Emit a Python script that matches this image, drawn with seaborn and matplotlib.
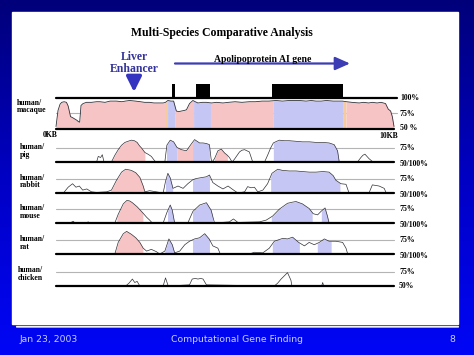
import numpy as np
import matplotlib
matplotlib.use("Agg")
import matplotlib.pyplot as plt
import seaborn as sns
from matplotlib.patches import Rectangle

# ---------------- data ----------------
macaque_kb = [0.00, 0.06, 0.12, 0.17, 0.24, 0.31, 0.36, 0.43, 0.50, 0.56, 0.62, 0.66, 0.70, 0.74, 0.80, 0.90,
              1.05, 1.20, 1.30, 1.45, 1.60, 1.79, 1.95, 2.05, 2.18, 2.35, 2.50, 2.62, 2.77, 2.90, 3.05, 3.17,
              3.24, 3.31, 3.40, 3.48, 3.56, 3.63, 3.71, 3.80, 3.86, 3.95, 4.05, 4.12, 4.20, 4.33, 4.45, 4.60,
              4.75, 4.94, 5.10, 5.30, 5.50, 5.72, 5.90, 6.10, 6.30, 6.51, 6.70, 6.90, 7.05, 7.20, 7.40, 7.55,
              7.69, 7.85, 8.00, 8.20, 8.35, 8.47, 8.60, 8.75, 8.97, 9.10, 9.25, 9.36, 9.50, 9.62, 9.75, 9.83,
              9.90, 9.95, 10.00]
macaque_id = [54, 80, 90, 93, 94, 93, 87, 70, 68, 66, 64, 62, 61, 88, 91, 93,
              93, 94, 94, 93, 95, 95, 94, 95, 96, 95, 94, 93, 93, 92, 92, 92,
              93, 96, 95, 95, 79, 78, 79, 80, 81, 91, 96, 94, 92, 93, 93, 92,
              93, 92, 93, 94, 93, 94, 94, 95, 95, 96, 95, 96, 96, 96, 95, 96,
              95, 95, 96, 95, 95, 95, 94, 93, 92, 93, 92, 93, 92, 93, 91, 82,
              79, 70, 54]

pig_kb = [1.20, 1.25, 1.32, 1.37, 1.42, 1.64, 1.74, 1.84, 1.94, 2.04, 2.13, 2.23, 2.32, 2.40, 2.47, 2.53, 2.63,
          2.72, 2.82, 2.92, 2.97, 3.22, 3.28, 3.38, 3.48, 3.58, 3.71, 3.86, 4.00, 4.10, 4.25, 4.35, 4.45,
          4.54, 4.59, 4.62, 4.69, 4.79, 4.89, 4.99, 5.07, 5.13, 5.21, 5.28, 5.36, 5.43, 5.50, 5.58, 5.65,
          5.72, 5.82, 6.17, 6.26, 6.35, 6.43, 6.53, 6.61, 6.75, 6.90, 7.10, 7.29, 7.50, 7.69, 7.90, 8.08,
          8.23, 8.33, 8.38, 8.92, 9.02, 9.08, 9.14, 9.20, 9.26, 9.38]
pig_id = [50, 60, 58, 63, 50, 50, 62, 72, 80, 85, 87, 89, 88, 85, 79, 75, 67,
          64, 60, 52, 50, 50, 80, 89, 86, 76, 72, 70, 82, 90, 84, 84, 83,
          81, 55, 50, 56, 70, 73, 66, 62, 58, 50, 55, 62, 68, 71, 72, 70,
          68, 50, 50, 62, 75, 84, 87, 89, 88, 88, 87, 86, 86, 85, 85, 84,
          81, 70, 50, 50, 58, 62, 64, 60, 56, 50]

rabbit_kb = [0.22, 0.36, 0.49, 0.59, 0.69, 0.79, 0.91, 1.05, 1.20, 1.50, 1.64, 1.79, 1.94, 2.06, 2.15, 2.23,
             2.36, 2.48, 2.58, 2.63, 2.77, 2.97, 3.17, 3.24, 3.31, 3.38, 3.46, 3.61, 3.76, 3.90, 4.05, 4.15,
             4.25, 4.35, 4.45, 4.54, 4.64, 4.79, 4.94, 5.09, 5.23, 5.38, 5.58, 5.67, 5.77, 5.87, 5.97, 6.12,
             6.26, 6.39, 6.56, 6.70, 6.90, 7.10, 7.29, 7.50, 7.69, 7.90, 8.08, 8.20, 8.28, 8.43, 8.58, 8.67,
             9.26, 9.36, 9.46, 9.56, 9.71, 9.77]
rabbit_id = [50, 60, 66, 60, 62, 55, 57, 52, 51, 52, 55, 72, 86, 91, 90, 89,
             85, 77, 62, 52, 54, 52, 50, 70, 84, 76, 58, 62, 58, 66, 73, 75,
             76, 77, 78, 81, 68, 62, 57, 62, 56, 50, 52, 61, 59, 60, 52, 55,
             66, 84, 91, 89, 88, 88, 87, 86, 86, 87, 86, 80, 72, 66, 65, 50,
             50, 64, 63, 62, 58, 50]

mouse_kb = [0.41, 0.51, 0.56, 0.91, 0.95, 1.00, 1.74, 1.84, 1.99, 2.10, 2.18, 2.26, 2.40, 2.56, 2.68, 2.77,
            2.85, 3.17, 3.28, 3.38, 3.44, 3.51, 3.90, 4.05, 4.25, 4.35, 4.45, 4.59, 4.69, 5.13, 5.25, 5.38,
            6.02, 6.22, 6.41, 6.61, 6.85, 7.00, 7.10, 7.29, 7.49, 7.61, 7.74, 7.84, 7.96, 8.03, 8.08]
mouse_id = [50, 53, 50, 50, 52, 50, 50, 65, 83, 89, 88, 85, 78, 68, 60, 55,
            50, 50, 68, 81, 72, 50, 50, 70, 81, 83, 85, 72, 50, 52, 57, 51,
            52, 55, 62, 74, 84, 86, 87, 83, 75, 66, 64, 70, 76, 62, 50]

rat_kb = [1.74, 1.84, 1.99, 2.09, 2.23, 2.36, 2.48, 2.58, 2.68, 2.82, 2.97, 3.07, 3.22, 3.34, 3.44, 3.51,
          3.66, 3.81, 3.95, 4.10, 4.25, 4.40, 4.53, 4.64, 4.79, 4.86, 5.72, 5.87, 6.12, 6.31, 6.46, 6.71,
          6.85, 7.00, 7.18, 7.35, 7.49, 7.64, 7.79, 7.94, 8.08, 8.28, 8.48, 8.58, 8.63]
rat_id = [50, 70, 85, 89, 84, 78, 70, 60, 55, 58, 54, 50, 55, 76, 66, 52,
          55, 66, 72, 76, 78, 85, 76, 64, 60, 50, 50, 53, 52, 60, 72, 77,
          76, 79, 70, 64, 70, 66, 70, 76, 72, 72, 70, 60, 50]

chicken_kb = [2.06, 2.16, 2.26, 2.33, 2.40, 2.48, 3.17, 3.24, 3.32, 3.95, 4.03, 4.12, 4.20, 4.28, 4.35, 4.45,
              6.46, 6.56, 6.66, 6.78, 6.85, 6.95, 6.98, 7.86, 7.89, 7.92]
chicken_id = [50, 55, 62, 56, 58, 50, 50, 64, 50, 52, 62, 63, 62, 63, 62, 52,
              50, 55, 62, 69, 73, 60, 50, 50, 56, 50]

# conserved regions: (start kb, end kb, kind)
macaque_regions = [(0.00, 3.24, "cns"), (3.24, 3.30, "utr"), (3.30, 3.51, "exon"), (3.51, 4.07, "cns"),
                   (4.07, 4.57, "exon"), (4.57, 6.43, "cns"), (6.43, 8.50, "exon"), (8.50, 8.58, "utr"),
                   (8.58, 10.00, "cns")]
pig_regions = [(1.65, 2.63, "cns"), (3.27, 3.57, "exon"), (3.57, 4.04, "cns"), (4.04, 4.54, "exon"),
               (4.69, 5.07, "cns"), (6.43, 8.38, "exon")]
rabbit_regions = [(1.62, 2.60, "cns"), (3.24, 3.45, "exon"), (4.04, 4.54, "exon"), (6.35, 8.40, "exon")]
mouse_regions = [(1.80, 2.57, "cns"), (3.30, 3.51, "exon"), (4.04, 4.63, "exon"), (6.37, 7.58, "exon"),
                 (7.85, 8.08, "exon")]
rat_regions = [(1.74, 2.57, "cns"), (3.22, 3.51, "exon"), (4.04, 4.54, "exon"), (6.40, 7.20, "exon"),
               (7.73, 8.14, "exon")]
chicken_regions = []

# gene exons (kb)
exon_start = [3.42, 4.13, 6.40]
exon_end = [3.51, 4.57, 8.50]

species_labels = ["human/\nmacaque", "human/\npig", "human/\nrabbit", "human/\nmouse", "human/\nrat",
                  "human/\nchicken"]

title_text = "Multi-Species Comparative Analysis"
footer_left = "Jan 23, 2003"
footer_mid = "Computational Gene Finding"
footer_right = "8"

# ---------------- style ----------------
sns.set_style("white")
plt.rcParams["font.family"] = ["Liberation Serif", "DejaVu Serif"]

W, H = 474, 355
fig = plt.figure(figsize=(W / 100, H / 100), dpi=100)

COLORS = {"cns": "#f7c4c6", "exon": "#c6c6f4", "utr": "#f6cc9e"}
LINE = "#303038"

def fx(px):
    return px / W

def fy(py):
    return 1 - py / H

# background gradient
bg = fig.add_axes([0, 0, 1, 1], zorder=-10)
grad = np.linspace(0, 1, 256).reshape(-1, 1)
cmap = matplotlib.colors.LinearSegmentedColormap.from_list("bg", ["#00007a", "#0000c4", "#0006f6"])
bg.imshow(grad, aspect="auto", cmap=cmap, extent=[0, 1, 0, 1], origin="upper")
bg.set_xlim(0, 1)
bg.set_ylim(0, 1)
bg.axis("off")
bg.add_patch(Rectangle((fx(12), fy(324)), fx(458) - fx(12), fy(12) - fy(324), color="white", zorder=2))
bg.plot([fx(16), fx(458)], [fy(326.3), fy(326.3)], color="#f2f2f2", lw=0.9, zorder=3)
bg.plot([fx(16), fx(458)], [fy(327.4), fy(327.4)], color="#c9b46a", lw=0.7, zorder=3)

def add_panel(y100, y50, top=None):
    top = y100 if top is None else top
    ax = fig.add_axes([fx(56), fy(y50), fx(394) - fx(56), (y50 - top) / H])
    ax.set_xlim(0, 10)
    ax.set_ylim(50, 50 + (y50 - top) / (y50 - y100) * 50)
    ax.axis("off")
    ax.patch.set_alpha(0)
    return ax

def fill_region(ax, xs, ys, a, b, color):
    xs = np.asarray(xs, float)
    ys = np.asarray(ys, float)
    inner = (xs > a) & (xs < b)
    px = np.concatenate([[a], xs[inner], [b]])
    py = np.concatenate([[np.interp(a, xs, ys)], ys[inner], [np.interp(b, xs, ys)]])
    ax.fill_between(px, 50, py, color=color, lw=0, zorder=1)

def draw_curve(ax, xs, ys, regions, lw=0.55):
    ax.axhline(75, xmin=0, xmax=1.0, color="#b4b4b4", lw=0.8, zorder=0, clip_on=False)
    for a, b, kind in regions:
        fill_region(ax, xs, ys, a, b, COLORS[kind])
    sns.lineplot(x=xs, y=ys, ax=ax, color=LINE, lw=lw, estimator=None, sort=False, zorder=3)
    ax.lines[-1].set_clip_on(False)
    ax.axhline(50, xmin=0, xmax=1.0, color="black", lw=1.6, zorder=4, clip_on=False)

# macaque panel (with gene track above)
axm = add_panel(98, 129, top=84)
draw_curve(axm, macaque_kb, macaque_id, macaque_regions, lw=0.6)
axm.axhline(75, xmin=0.99, xmax=1.01, color="#b4b4b4", lw=0.8, zorder=0, clip_on=False)
axm.axhline(100, xmin=0, xmax=1.01, color="black", lw=1.6, zorder=4, clip_on=False)
ytop = axm.get_ylim()[1]
for s, e in zip(exon_start, exon_end):
    axm.fill_between([s, e], 100, ytop, color="black", lw=0, zorder=4)

lower = [
    (134, 162, pig_kb, pig_id, pig_regions),
    (164, 193, rabbit_kb, rabbit_id, rabbit_regions),
    (194, 223, mouse_kb, mouse_id, mouse_regions),
    (225, 254, rat_kb, rat_id, rat_regions),
    (257, 286, chicken_kb, chicken_id, chicken_regions),
]
for y100, y50, xs, ys, regs in lower:
    ax = add_panel(y100, y50)
    draw_curve(ax, xs, ys, regs, lw=0.5)

# ---------------- text ----------------
tkw = dict(fontweight="bold", color="black")
fig.text(fx(222), fy(33), title_text, ha="center", va="center", fontsize=8.5, **tkw)
fig.text(fx(134), fy(57), "Liver", ha="center", va="center", fontsize=8.5, fontweight="bold", color="#34349a")
fig.text(fx(134), fy(68.5), "Enhancer", ha="center", va="center", fontsize=8.5, fontweight="bold", color="#34349a")
fig.text(fx(263), fy(59.5), "Apolipoprotein AI gene", ha="center", va="center", fontsize=7, **tkw)

bg.annotate("", xy=(fx(350), fy(63.5)), xytext=(fx(175), fy(63.5)), xycoords="figure fraction",
            arrowprops=dict(arrowstyle="-|>,head_width=0.4,head_length=0.9", lw=1.6, color="#3c3cb4",
                            shrinkA=0, shrinkB=0, mutation_scale=10), zorder=5)
bg.annotate("", xy=(fx(134), fy(92)), xytext=(fx(134), fy(77)), xycoords="figure fraction",
            arrowprops=dict(arrowstyle="-|>,head_width=0.45,head_length=0.9", lw=2.6, color="#3434c0",
                            shrinkA=0, shrinkB=0, mutation_scale=10), zorder=5)

lab_kw = dict(fontsize=5.6, fontweight="bold", color="black", linespacing=0.9)
label_y = [106.5, 151, 181.5, 212, 243, 274]
label_x = [17, 20, 20, 20, 20, 18]
for lab, lx, ly in zip(species_labels, label_x, label_y):
    fig.text(fx(lx), fy(ly), lab, ha="left", va="center", **lab_kw)

fig.text(fx(50), fy(135), "0KB", ha="center", va="center", **lab_kw)
fig.text(fx(389), fy(136.5), "10KB", ha="center", va="center", **lab_kw)
fig.text(fx(400), fy(98.5), "100%", ha="left", va="center", **lab_kw)
fig.text(fx(400), fy(114), "75%", ha="left", va="center", **lab_kw)
fig.text(fx(400), fy(128.5), "50 %", ha="left", va="center", **lab_kw)
for y100, y50, *_ in lower[:-1]:
    fig.text(fx(400), fy(y50 - 14), "75%", ha="left", va="center", **lab_kw)
    fig.text(fx(400), fy(y50 + 1.5), "50/100%", ha="left", va="center", **lab_kw)
fig.text(fx(399), fy(272), "75%", ha="left", va="center", **lab_kw)
fig.text(fx(399), fy(286.5), "50%", ha="left", va="center", **lab_kw)

fkw = dict(fontsize=6.7, color="#c8d0ff", family=["DejaVu Sans"], va="center")
fig.text(fx(20), fy(339.5), footer_left, ha="left", **fkw)
fig.text(fx(237), fy(339.5), footer_mid, ha="center", **fkw)
fig.text(fx(452), fy(339.5), footer_right, ha="center", **fkw)

fig.savefig("out.png", dpi=100)
